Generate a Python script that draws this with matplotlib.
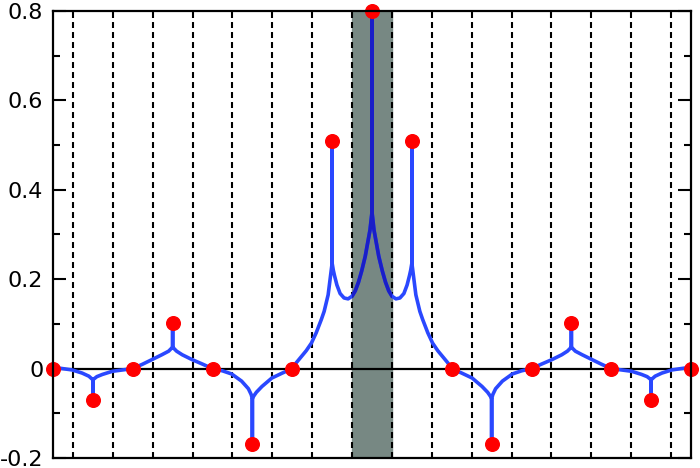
import numpy as np
import matplotlib
matplotlib.use("Agg")
import matplotlib.pyplot as plt
from matplotlib.ticker import MultipleLocator, FuncFormatter

plt.rcParams['axes.unicode_minus'] = False
plt.rcParams['lines.scale_dashes'] = False

# sample points (red dots)
sample_x = [-8, -7, -6, -5, -4, -3, -2, -1, 0, 1, 2, 3, 4, 5, 6, 7, 8]
sample_y = [0.0, -0.071, 0.0, 0.102, 0.0, -0.168, 0.0, 0.51, 0.8,
            0.51, 0.0, -0.168, 0.0, 0.102, 0.0, -0.071, 0.0]

# blue curve, right half (repeated x = vertical spike)
half_x = [0, 0, 0.05, 0.1, 0.17, 0.26, 0.34, 0.42, 0.5, 0.6, 0.7, 0.8, 0.88,
          0.94, 0.97, 1.0, 1.0, 1.0, 1.03, 1.1, 1.2, 1.27, 1.4, 1.52, 1.65,
          1.77, 1.9, 2.0, 2.25, 2.51, 2.76, 2.9, 2.97, 3.0, 3.0, 3.0, 3.03,
          3.1, 3.27, 3.52, 3.75, 4.0, 4.25, 4.51, 4.76, 4.9, 5.0, 5.0, 5.0,
          5.1, 5.27, 5.52, 5.75, 6.0, 6.25, 6.51, 6.76, 6.9, 7.0, 7.0, 7.0,
          7.1, 7.27, 7.52, 7.75, 8.0]
half_y = [0.8, 0.35, 0.31, 0.285, 0.251, 0.218, 0.193, 0.174, 0.162, 0.156,
          0.158, 0.168, 0.187, 0.208, 0.22, 0.236, 0.51, 0.236, 0.215, 0.165,
          0.128, 0.110, 0.080, 0.057, 0.040, 0.027, 0.013, 0.0, -0.010,
          -0.021, -0.040, -0.053, -0.062, -0.068, -0.168, -0.068, -0.058,
          -0.045, -0.028, -0.012, -0.005, 0.0, 0.010, 0.020, 0.031, 0.039,
          0.048, 0.102, 0.048, 0.039, 0.031, 0.020, 0.010, 0.0, -0.003,
          -0.006, -0.013, -0.018, -0.025, -0.071, -0.025, -0.017, -0.010,
          -0.003, 0.0, 0.003]

curve_x = np.concatenate([-np.array(half_x)[::-1], half_x])
curve_y = np.concatenate([np.array(half_y)[::-1], half_y])

fig = plt.figure(figsize=(7, 4.68), dpi=100)
ax = fig.add_axes([53 / 700, 10 / 468, 638 / 700, 447 / 468])

# dashed separators at half-integers
for xv in np.arange(-7.5, 8, 1.0):
    ax.axvline(xv, color='black', lw=1.5, dashes=(4.3, 2.9), zorder=2)

band = ax.axvspan(-0.5, 0.5, color='#778883', zorder=1)
ax.axhline(0, color='black', lw=1.6, zorder=3)

ax.plot(curve_x, curve_y, color='#2a48ff', lw=2.6, zorder=4)
# darker blue where the curve runs inside the grey band
inner, = ax.plot(curve_x, curve_y, color='#1a1ec8', lw=2.6, zorder=4.5)
inner.set_clip_path(band)
ax.plot(sample_x, sample_y, 'o', color='#ff0000', ms=9.8, zorder=6, clip_on=False)

ax.set_xlim(-8, 8)
ax.set_ylim(-0.2, 0.8)
ax.set_xticks([])
ax.yaxis.set_major_locator(MultipleLocator(0.2))
ax.yaxis.set_minor_locator(MultipleLocator(0.1))
ax.yaxis.set_major_formatter(FuncFormatter(lambda v, p: '0' if abs(v) < 1e-9 else f'{v:.1f}'))
ax.tick_params(axis='y', which='major', direction='in', length=9.5, width=1.5,
               right=True, labelsize=16, pad=7)
ax.tick_params(axis='y', which='minor', direction='in', length=5, width=1.5, right=True)
for s in ax.spines.values():
    s.set_linewidth(1.6)
    s.set_zorder(7)

fig.savefig('out.png', dpi=100)
